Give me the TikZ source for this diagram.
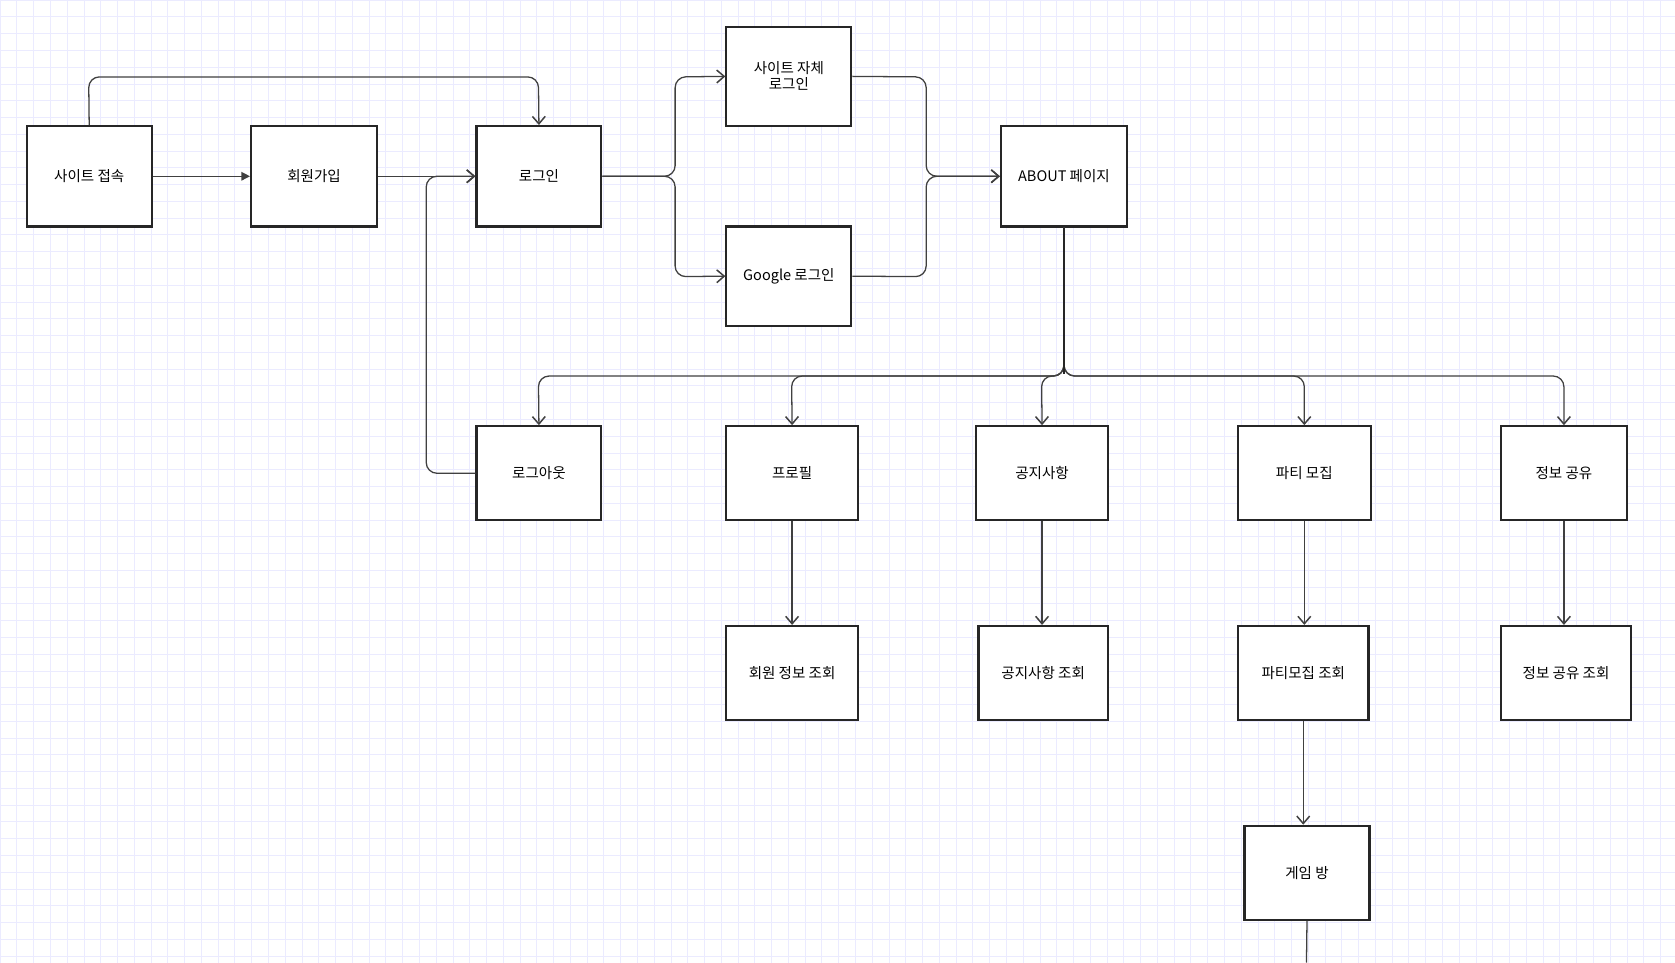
\documentclass[tikz,border=0pt]{standalone}
\usepackage{fontspec}
\setmainfont{Noto Sans CJK KR}
\usetikzlibrary{arrows.meta}
\begin{document}
\begin{tikzpicture}[x=0.5pt,y=-0.5pt,
  box/.style={draw=black!85,line width=1pt,fill=white,inner sep=0pt,align=center,font=\fontsize{6.8}{7.5}\selectfont},
  ln/.style={draw=black!75,line width=0.6pt,rounded corners=5pt},
  ar/.style={ln,-{Straight Barb[length=3.5pt,width=6pt,line width=0.7pt]}},
  fa/.style={ln,-{Triangle[length=4pt,width=4pt]}}]
\useasboundingbox (0,0) rectangle (1568,901);
\fill[white] (0,0) rectangle (1568,901);
\foreach \i in {0,...,100}{
  \draw[blue!8,line width=0.3pt] ({\i*15.7},0) -- ({\i*15.7},901);
  \ifnum\i<58 \draw[blue!8,line width=0.3pt] (0,{\i*15.7}) -- (1568,{\i*15.7});\fi}
\newcommand\bx[6]{\node[box,minimum width=#4*0.5pt-#2*0.5pt,minimum height=#5*0.5pt-#3*0.5pt] (#1) at ({(#2+#4)/2},{(#3+#5)/2}) {#6};}
\bx{a}{25}{118}{142}{212}{사이트 접속}
\bx{b}{235}{118}{353}{212}{회원가입}
\bx{c}{446}{118}{563}{212}{로그인}
\bx{d}{680}{25}{797}{118}{사이트 자체\\로그인}
\bx{e}{680}{212}{797}{305}{Google 로그인}
\bx{f}{937}{118}{1055}{212}{ABOUT 페이지}
\bx{g}{446}{399}{563}{487}{로그아웃}
\bx{h}{680}{399}{803}{487}{프로필}
\bx{i}{914}{399}{1037}{487}{공지사항}
\bx{j}{1159}{399}{1283}{487}{파티 모집}
\bx{k}{1405}{399}{1523}{487}{정보 공유}
\bx{l}{680}{586}{803}{674}{회원 정보 조회}
\bx{m}{916}{586}{1037}{674}{공지사항 조회}
\bx{n}{1159}{586}{1281}{674}{파티모집 조회}
\bx{o}{1405}{586}{1527}{674}{정보 공유 조회}
\bx{p}{1165}{773}{1282}{861}{게임 방}
\coordinate (end) at (1223,901);
\draw[ar] (a.north) -- (83,72) -- (504,72) -- (c.north);
\draw[fa] (a) -- (b);
\draw[ar] (b) -- (c);
\draw[ar] (g.west) -- (399,443) -- (399,165) -- (c.west);
\draw[ar] (c.east) -- (632,165) -- (632,72) -- (d.west);
\draw[ar] (c.east) -- (632,165) -- (632,259) -- (e.west);
\draw[ar] (d.east) -- (867,72) -- (867,165) -- (f.west);
\draw[ar] (e.east) -- (867,259) -- (867,165) -- (f.west);
\foreach \t/\x in {g/504,h/741,i/975,j/1221,k/1464}
  \draw[ar] (f.south) -- (996,352) -- (\x,352) -- (\t.north);
\draw[line width=1pt,black!85] (f.south) -- (996,350);
\draw[ar] (h) -- (l);
\draw[ar] (i.south) -- (i.south|-m.north);
\draw[ar] (j.south) -- (j.south|-n.north);
\draw[ar] (k) -- (k.south|-o.north);
\draw[ar] (n.south) -- (n.south|-p.north);
\draw[ln] (p.south) -- (end);
\end{tikzpicture}
\end{document}
